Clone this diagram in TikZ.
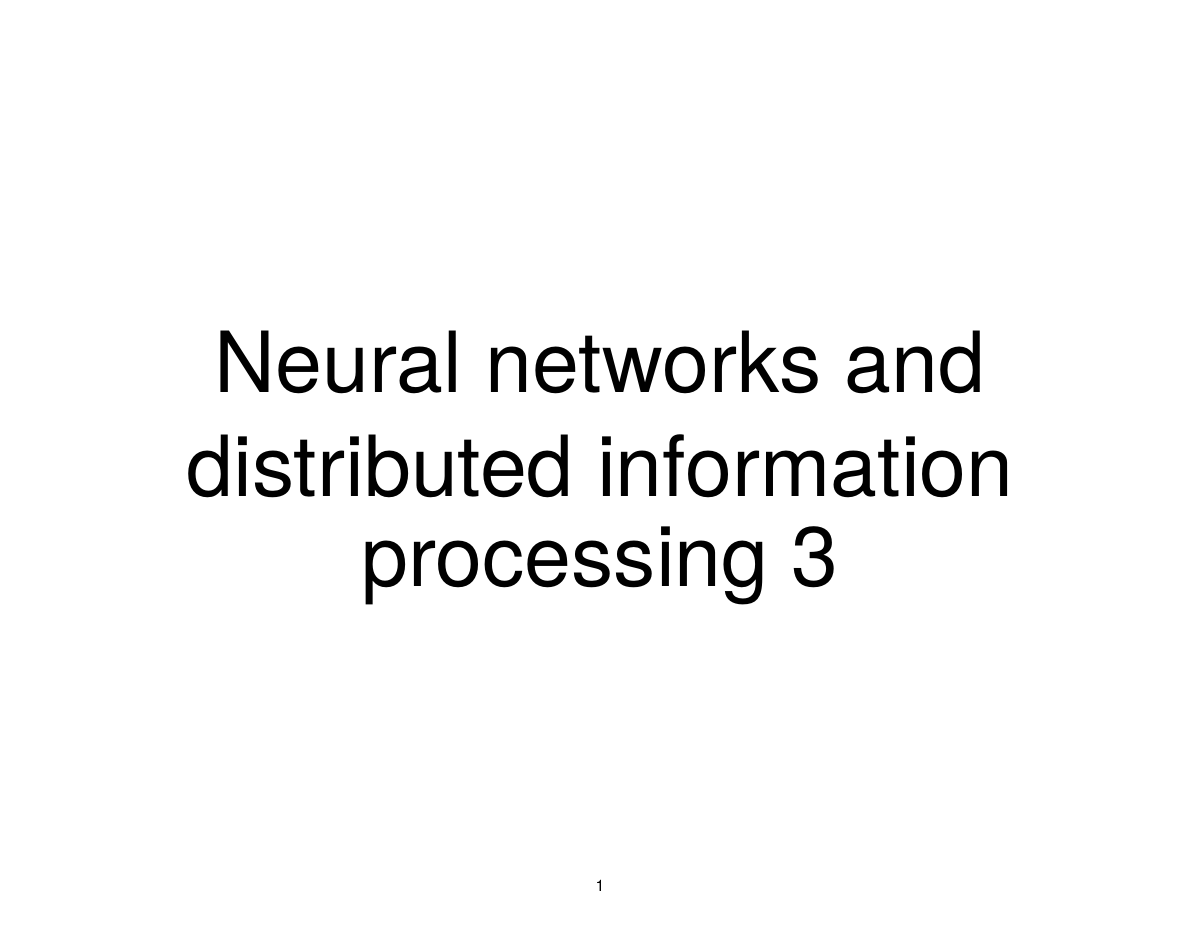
\documentclass[tikz,border=0pt]{standalone}
\usepackage{fontspec}
\setmainfont{TeX Gyre Heros}
\begin{document}
\begin{tikzpicture}[x=1cm,y=-1cm,
  title/.style={anchor=base,font=\fontsize{24pt}{28pt}\selectfont},
  pnum/.style={anchor=base,font=\fontsize{4.5pt}{6pt}\selectfont}]
\useasboundingbox[fill=white] (0,0) rectangle (12,9.27);
\node[title] (l1) at (6,3.93) {Neural networks and};
\node[title] (l2) at (6,4.97) {distributed information};
\node[title] (l3) at (6,5.87) {processing 3};
\node[pnum] (pg) at (6,8.92) {1};
\end{tikzpicture}
\end{document}
